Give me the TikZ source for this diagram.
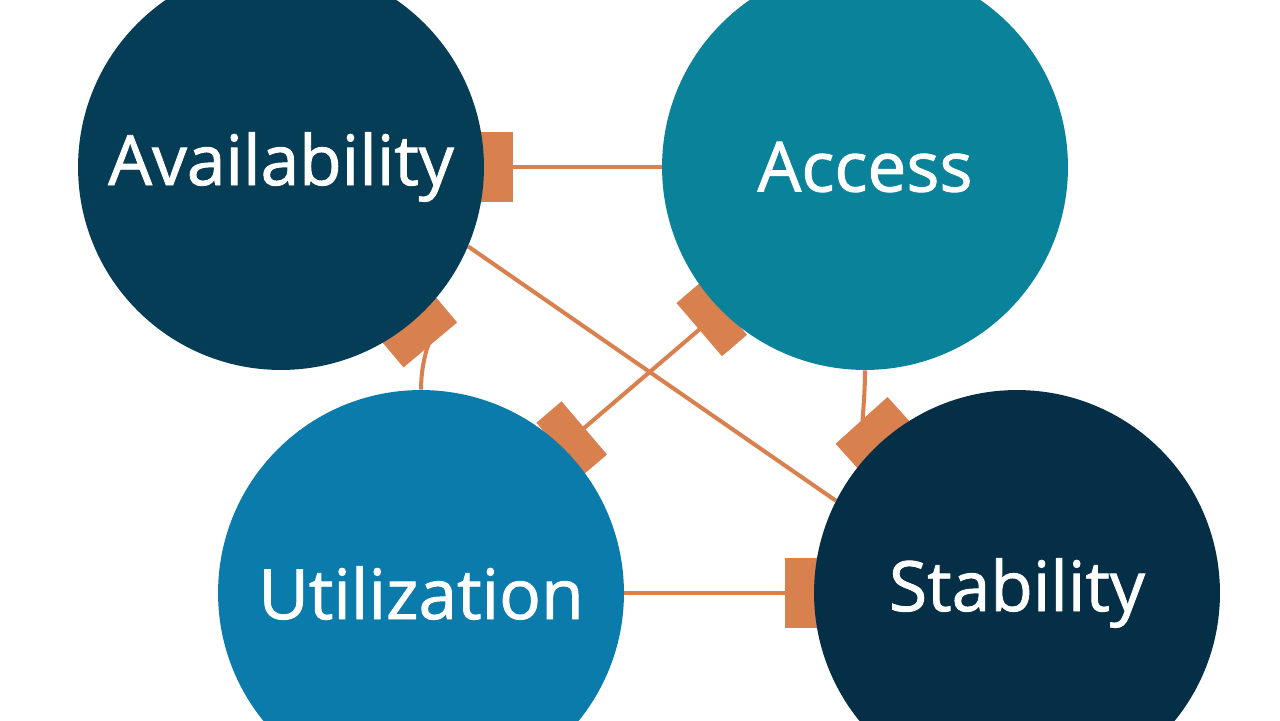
\documentclass[tikz,border=0pt]{standalone}
\usepackage{fontspec}
\setmainfont{Open Sans}
\newfontfamily\pillarfont[FakeBold=1.3]{Open Sans}
\usetikzlibrary{arrows.meta,backgrounds}
\definecolor{availblue}{RGB}{6,61,86}
\definecolor{accessteal}{RGB}{10,130,153}
\definecolor{utilblue}{RGB}{10,123,170}
\definecolor{stabnavy}{RGB}{4,47,71}
\definecolor{linkorange}{RGB}{216,128,78}

\begin{document}
\begin{tikzpicture}[x=0.02cm,y=-0.02cm,
  pillar/.style={circle,minimum size=8.12cm,inner sep=0pt,text=white,
    font=\pillarfont\fontsize{39.5}{42}\selectfont},
  link/.style={draw=linkorange,line width=2.3pt},
  capped/.style={-{Rectangle[length=0.66cm,width=1.4cm]},shorten >=-0.08cm},
  cappedboth/.style={{Rectangle[length=0.66cm,width=1.4cm]}-{Rectangle[length=0.66cm,width=1.4cm]},
    shorten >=-0.08cm,shorten <=-0.08cm}
]
\useasboundingbox (0,0) rectangle (1280,720);

% the four pillars
\node[pillar,fill=availblue] (avail) at (281,167) {Availability};
\node[pillar,fill=accessteal] (access) at (865,167) {Access};
\node[pillar,fill=utilblue] (util) at (421,593) {Utilization};
\node[pillar,fill=stabnavy] (stab) at (1017,593) {Stability};

% links behind the circles
\begin{scope}[on background layer]
\draw[link,capped] (access) -- (avail);
\draw[link,capped] (util) -- (stab);
\draw[link] (avail.-23) -- (stab.153);
\draw[link,capped] (util.north) to[out=90,in=-50] (avail.-50);
\draw[link,capped] (access.south) to[out=-90,in=132] (stab.132);
\draw[link,cappedboth] (util.46) -- (access.225);
\end{scope}

\end{tikzpicture}
\end{document}
